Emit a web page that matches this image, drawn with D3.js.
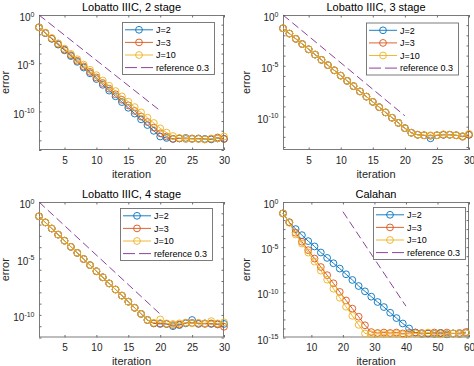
<!DOCTYPE html>
<html><head><meta charset="utf-8">
<script src="https://cdn.jsdelivr.net/npm/d3@7"></script>
<style>
body{margin:0;background:#fff}
svg{display:block}
text{font-family:"Liberation Sans",Arial,Helvetica,sans-serif}
</style>
</head><body>
<svg id="c" width="474" height="366"></svg>
<script>
// ---------- data (error values stored as log10(error)) ----------
const seriesNames = ["J=2", "J=3", "J=10", "reference 0.3"];
const seriesColors = ["#0072BD", "#D95319", "#EDB120", "#7E2F8E"];
const titles = ["Lobatto IIIC, 2 stage", "Lobatto IIIC, 3 stage", "Lobatto IIIC, 4 stage", "Calahan"];

const iterLob = [1,2,3,4,5,6,7,8,9,10,11,12,13,14,15,16,17,18,19,20,21,22,23,24,25,26,27,28,29,30];
const iterCal = [1,3,5,7,9,11,13,15,17,19,21,23,25,27,29,31,33,35,37,39,41,43,45,47,49,51,53,55,57,59];

const xTicksLob = [5,10,15,20,25,30];
const xTicksCal = [10,20,30,40,50,60];
const yTickLabelExps = [0,-5,-10,-15];

// Lobatto IIIC, 2 stage
const lob2_J2  = [-1.28,-1.88,-2.47,-3.07,-3.66,-4.26,-4.86,-5.45,-6.05,-6.64,-7.24,-7.84,-8.43,-9.03,-9.62,-10.22,-10.82,-11.41,-12.01,-12.6,-12.75,-12.85,-12.8,-12.75,-12.85,-12.8,-12.85,-12.9,-12.8,-12.85];
const lob2_J3  = [-1.28,-1.86,-2.44,-3.01,-3.59,-4.17,-4.75,-5.33,-5.90,-6.48,-7.06,-7.64,-8.22,-8.79,-9.37,-9.95,-10.53,-11.10,-11.68,-12.27,-12.6,-12.85,-12.8,-12.85,-12.8,-12.85,-12.9,-12.85,-12.7,-12.85];
const lob2_J10 = [-1.28,-1.83,-2.38,-2.93,-3.48,-4.04,-4.59,-5.14,-5.69,-6.24,-6.79,-7.34,-7.89,-8.44,-8.99,-9.55,-10.10,-10.65,-11.20,-11.75,-12.2,-12.55,-12.75,-12.8,-12.85,-12.85,-12.9,-12.8,-12.8,-12.6];

// Lobatto IIIC, 3 stage
const lob3_J2  = [-1.31,-1.83,-2.35,-2.86,-3.38,-3.90,-4.42,-4.94,-5.45,-5.97,-6.49,-7.01,-7.53,-8.04,-8.56,-9.08,-9.60,-10.12,-10.63,-11.15,-11.6,-11.8,-11.85,-12.15,-11.85,-11.8,-11.8,-11.85,-11.95,-11.8];
const lob3_J3  = [-1.31,-1.83,-2.35,-2.86,-3.38,-3.90,-4.42,-4.94,-5.45,-5.97,-6.49,-7.01,-7.53,-8.04,-8.56,-9.08,-9.60,-10.12,-10.63,-11.15,-11.6,-11.8,-11.85,-11.9,-11.85,-11.8,-11.8,-11.85,-12.0,-11.8];
const lob3_J10 = [-1.31,-1.83,-2.35,-2.86,-3.38,-3.90,-4.42,-4.94,-5.45,-5.97,-6.49,-7.01,-7.53,-8.04,-8.56,-9.08,-9.60,-10.12,-10.63,-11.15,-11.6,-11.8,-11.85,-11.85,-11.85,-11.75,-11.8,-11.85,-11.95,-11.7];

// Lobatto IIIC, 4 stage
const lob4_J2  = [-1.27,-1.81,-2.35,-2.89,-3.43,-3.97,-4.51,-5.05,-5.59,-6.13,-6.67,-7.21,-7.75,-8.29,-8.83,-9.37,-9.91,-10.45,-10.75,-10.8,-10.8,-11.0,-10.9,-10.75,-10.45,-10.8,-10.75,-10.8,-10.8,-10.8];
const lob4_J3  = [-1.27,-1.81,-2.35,-2.89,-3.43,-3.97,-4.51,-5.05,-5.59,-6.13,-6.67,-7.21,-7.75,-8.29,-8.83,-9.37,-9.91,-10.45,-10.75,-10.75,-10.8,-10.9,-10.85,-10.7,-10.7,-10.75,-10.8,-10.75,-10.85,-11.05];
const lob4_J10 = [-1.27,-1.81,-2.35,-2.89,-3.43,-3.97,-4.51,-5.05,-5.59,-6.13,-6.67,-7.21,-7.75,-8.29,-8.83,-9.37,-9.91,-10.45,-10.7,-10.4,-10.75,-10.8,-10.75,-10.7,-10.75,-10.7,-10.75,-10.55,-10.75,-10.65];

// Calahan
const cal_J2  = [-1.26,-2.25,-3.0,-3.67,-4.33,-4.92,-5.59,-6.19,-6.78,-7.37,-8.0,-8.63,-9.3,-9.89,-10.48,-11.07,-11.63,-12.26,-12.85,-13.45,-14.0,-14.45,-14.6,-14.55,-14.6,-14.5,-14.65,-14.55,-14.6,-14.5];
const cal_J3  = [-1.26,-2.25,-3.4,-4.4,-5.33,-6.26,-7.2,-8.1,-9.0,-9.95,-10.9,-11.8,-12.7,-13.65,-14.4,-14.5,-14.45,-14.5,-14.45,-14.55,-14.5,-14.45,-14.5,-14.55,-14.45,-14.5,-14.45,-14.55,-14.5,-14.4];
const cal_J10 = [-1.26,-2.3,-3.6,-4.6,-5.6,-6.6,-7.6,-8.6,-9.6,-10.6,-11.6,-12.6,-13.6,-14.55,-14.65,-14.6,-14.65,-14.6,-14.6,-14.65,-14.6,-14.55,-14.6,-14.45,-14.6,-14.65,-14.6,-14.55,-14.6,-14.5];

// reference 0.3 lines (two end points each)
const refLobIter = [1, 20];
const refLobLog  = [0, -9.93];
const refCalIter = [20, 40];
const refCalLog  = [-1.07, -11.53];

// ---------- layout ----------
const panels = [
  {title: titles[0], iter: iterLob, data: [lob2_J2, lob2_J3, lob2_J10], refIter: refLobIter, refLog: refLobLog,
   xDom: [1,30], xTicks: xTicksLob, yMin: -14, box: [39,224,15,150], leg: [122,22]},
  {title: titles[1], iter: iterLob, data: [lob3_J2, lob3_J3, lob3_J10], refIter: refLobIter, refLog: refLobLog,
   xDom: [1,30], xTicks: xTicksLob, yMin: -13.3, box: [283,469,15,150], leg: [366,22.5]},
  {title: titles[2], iter: iterLob, data: [lob4_J2, lob4_J3, lob4_J10], refIter: refLobIter, refLog: refLobLog,
   xDom: [1,30], xTicks: xTicksLob, yMin: -12, box: [39,224,202,337.5], leg: [120,208]},
  {title: titles[3], iter: iterCal, data: [cal_J2, cal_J3, cal_J10], refIter: refCalIter, refLog: refCalLog,
   xDom: [1,60], xTicks: xTicksCal, yMin: -15, box: [283,469,202,337.5], leg: [373,207]}
];

const svg = d3.select("#c");
const axisColor = "#262626";
const boxColor = "#6e6e6e";

panels.forEach(p => {
  const [x0, x1, y0, y1] = p.box;
  const x = d3.scaleLinear().domain(p.xDom).range([x0, x1]);
  const y = d3.scaleLog().domain([Math.pow(10, p.yMin), 1]).range([y1, y0]);
  const g = svg.append("g");

  const decades = d3.range(0, Math.ceil(p.yMin) - 1, -1).filter(e => e >= p.yMin).map(e => Math.pow(10, e));

  // bottom axis
  const gb = g.append("g").attr("transform", `translate(0,${y1})`)
    .call(d3.axisBottom(x).tickValues(p.xTicks).tickSizeInner(-2.5).tickSizeOuter(0).tickPadding(0));
  gb.select(".domain").remove();
  gb.selectAll(".tick line").attr("stroke", boxColor);
  gb.selectAll(".tick text").attr("y", 13.5).attr("dy", 0).attr("fill", axisColor)
    .attr("font-size", 10).attr("font-family", '"Liberation Sans",Arial,sans-serif');
  // top axis ticks
  const gt = g.append("g").attr("transform", `translate(0,${y0})`)
    .call(d3.axisTop(x).tickValues(p.xTicks).tickSizeInner(-2.5).tickSizeOuter(0).tickFormat(""));
  gt.select(".domain").remove();
  gt.selectAll(".tick line").attr("stroke", boxColor);

  // left axis
  const gl = g.append("g").attr("transform", `translate(${x0},0)`)
    .call(d3.axisLeft(y).tickValues(decades).tickSizeInner(-2.5).tickSizeOuter(0).tickPadding(4.5).tickFormat(""));
  gl.select(".domain").remove();
  gl.selectAll(".tick line").attr("stroke", boxColor);
  gl.selectAll(".tick text").each(function(d) {
    const e = Math.round(Math.log10(d));
    const t = d3.select(this);
    if (!yTickLabelExps.includes(e)) return;
    t.attr("dy", 0).attr("y", 5.6).attr("fill", axisColor).attr("font-size", 10)
     .attr("font-family", '"Liberation Sans",Arial,sans-serif');
    t.append("tspan").text("10");
    t.append("tspan").attr("dy", -4.5).attr("font-size", 7).text(String(e));
  });
  // right axis ticks
  const gr = g.append("g").attr("transform", `translate(${x1},0)`)
    .call(d3.axisRight(y).tickValues(decades).tickSizeInner(-2.5).tickSizeOuter(0).tickFormat(""));
  gr.select(".domain").remove();
  gr.selectAll(".tick line").attr("stroke", boxColor);

  // box
  g.append("rect").attr("x", x0 + 0.5).attr("y", y0 + 0.5)
    .attr("width", x1 - x0 - 1).attr("height", y1 - y0 - 1)
    .attr("fill", "none").attr("stroke", boxColor).attr("stroke-width", 0.9);

  // title & labels
  g.append("text").attr("x", (x0 + x1) / 2).attr("y", y0 - 4.5).attr("text-anchor", "middle")
    .attr("font-size", 11).attr("fill", "#000").text(p.title);
  g.append("text").attr("x", (x0 + x1) / 2).attr("y", y1 + 27.5).attr("text-anchor", "middle")
    .attr("font-size", 11).attr("fill", axisColor).text("iteration");
  g.append("text").attr("transform", `translate(${Math.max(x0 - 32.7, 9)},${(y0 + y1) / 2}) rotate(-90)`)
    .attr("text-anchor", "middle").attr("font-size", 11).attr("fill", axisColor).text("error");

  // data series
  const line = d3.line().x(d => x(d[0])).y(d => y(Math.pow(10, d[1])));
  p.data.forEach((vals, si) => {
    const pts = p.iter.map((it, i) => [it, vals[i]]);
    g.append("path").attr("d", line(pts)).attr("fill", "none")
      .attr("stroke", seriesColors[si]).attr("stroke-width", 0.9);
    g.append("g").selectAll("circle").data(pts).join("circle")
      .attr("cx", d => x(d[0])).attr("cy", d => y(Math.pow(10, d[1]))).attr("r", 3.4)
      .attr("fill", "none").attr("stroke", seriesColors[si]).attr("stroke-width", 0.9);
  });
  // reference
  const refPts = p.refIter.map((it, i) => [it, p.refLog[i]]);
  g.append("path").attr("d", line(refPts)).attr("fill", "none")
    .attr("stroke", seriesColors[3]).attr("stroke-width", 0.9).attr("stroke-dasharray", "8,4");

  // legend
  const [lx, ly] = p.leg;
  const lw = 93, lh = 53;
  const lg = g.append("g").attr("transform", `translate(${lx},${ly})`);
  lg.append("rect").attr("x", 0.5).attr("y", 0.5).attr("width", lw - 1).attr("height", lh - 1)
    .attr("fill", "#fff").attr("stroke", boxColor).attr("stroke-width", 0.9);
  seriesNames.forEach((name, i) => {
    const ry = 7.8 + i * 12.6;
    const ln = lg.append("line").attr("x1", 3).attr("x2", 31).attr("y1", ry).attr("y2", ry)
      .attr("stroke", seriesColors[i]).attr("stroke-width", 0.9);
    if (i === 3) ln.attr("stroke-dasharray", "12,4");
    else lg.append("circle").attr("cx", 17).attr("cy", ry).attr("r", 3.4)
      .attr("fill", "none").attr("stroke", seriesColors[i]).attr("stroke-width", 0.9);
    lg.append("text").attr("x", 34).attr("y", ry + 3.2).attr("font-size", 9)
      .attr("fill", "#000").text(name);
  });
});
</script>
</body></html>
